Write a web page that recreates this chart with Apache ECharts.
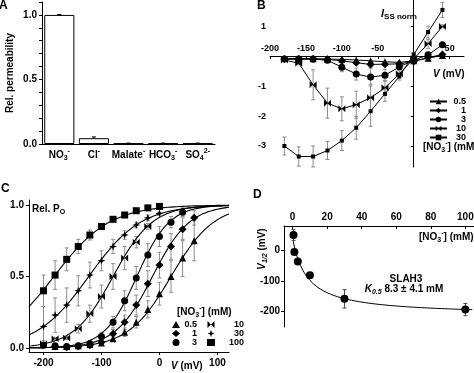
<!DOCTYPE html>
<html><head><meta charset="utf-8">
<script src="https://cdn.jsdelivr.net/npm/echarts@6/dist/echarts.min.js"></script>
<style>html,body{margin:0;padding:0;background:#fff}#c{width:474px;height:373px}</style>
</head><body><div id="c"></div>
<script>
// ---------- Panel A: relative permeability ----------
const aCategories = ['NO3', 'Cl', 'Malate', 'HCO3', 'SO4'];
const aValues = [1.0, 0.045, 0.005, 0.005, 0.005];
const aErrors = [0.003, 0.01, 0.002, 0.002, 0.002];
const aTickLabels = [0, 0.5, 1.0];

// ---------- Panel B: I/V curves ----------
const bVoltages = [-180, -160, -140, -120, -100, -80, -60, -40, -20, 0, 20, 40];
const bI05 = [-0.08, -0.08, -0.09, -0.10, -0.11, -0.13, -0.16, -0.19, -0.21, -0.16, -0.07, 0.02];
const bI1  = [-0.10, -0.10, -0.10, -0.11, -0.16, -0.22, -0.28, -0.27, -0.26, -0.18, -0.05, 0.05];
const bI3  = [-0.10, -0.10, -0.10, -0.14, -0.37, -0.60, -0.70, -0.64, -0.36, -0.14, 0.04, 0.38];
const bI10 = [-0.13, -0.24, -0.96, -1.57, -1.76, -1.62, -1.39, -1.06, -0.59, -0.09, 0.41, 0.99];
const bI30 = [-3.00, -3.35, -3.35, -3.15, -2.82, -2.39, -1.84, -1.26, -0.68, 0.05, 0.80, 1.54];
const bE1  = [0, 0, 0, 0, 0.03, 0.05, 0.07, 0.06, 0.05, 0.03, 0.03, 0.03];
const bE3  = [0, 0, 0, 0.03, 0.15, 0.20, 0.30, 0.20, 0.10, 0.05, 0.05, 0.05];
const bE10 = [0.05, 0.05, 0.50, 0.50, 0.40, 0.45, 0.45, 0.25, 0.10, 0.05, 0.15, 0.05];
const bE30 = [0.30, 0.32, 0.35, 0.30, 0.33, 0.38, 0.50, 0.25, 0.12, 0.05, 0.20, 0.25];
const bXLabels = [-200, -150, -100, -50, 50];
const bYLabels = [-3, -2, -1, 1];

// ---------- Panel C: relative open probability ----------
const cVoltages = [-200, -180, -160, -140, -120, -100, -80, -60, -40, -20, 0, 20, 40, 60];
const cP05  = [null, 0.01, 0.01, 0.015, 0.025, 0.035, 0.065, 0.11, 0.18, 0.27, 0.38, 0.50, 0.63, 0.75];
const cP1   = [null, 0.01, 0.005, 0.01, 0.02, 0.04, 0.10, 0.18, 0.30, 0.45, 0.58, 0.71, 0.83, 0.91];
const cP3   = [0.02, 0.015, 0.01, 0.015, 0.03, 0.08, 0.18, 0.33, 0.49, 0.65, 0.78, 0.88, 0.95, null];
const cP10  = [0.03, 0.065, 0.07, 0.135, 0.24, 0.36, 0.50, 0.63, 0.74, 0.85, null, null, null, null];
const cP30  = [0.15, 0.23, 0.30, 0.40, 0.51, 0.61, 0.71, 0.79, 0.86, 0.91, 0.94, null, null, null];
const cP100 = [0.40, 0.51, 0.62, 0.71, 0.79, 0.85, 0.90, 0.93, 0.96, 0.98, 0.99, null, null, null];
const cE05  = [null, 0.005, 0.005, 0.01, 0.01, 0.015, 0.02, 0.03, 0.04, 0.06, 0.08, 0.11, 0.13, 0.14];
const cE1   = [null, 0.005, 0.005, 0.01, 0.01, 0.02, 0.03, 0.05, 0.07, 0.09, 0.09, 0.09, 0.08, 0.05];
const cE3   = [0.01, 0.01, 0.01, 0.01, 0.02, 0.03, 0.04, 0.07, 0.08, 0.08, 0.07, 0.04, 0.03, null];
const cE10  = [0.02, 0.01, 0.01, 0.03, 0.06, 0.08, 0.09, 0.08, 0.04, 0.02, null, null, null, null];
const cE30  = [0.14, 0.12, 0.12, 0.105, 0.09, 0.07, 0.05, 0.03, 0.02, 0.02, 0.01, null, null, null];
const cE100 = [0.11, 0.10, 0.08, 0.05, 0.035, 0.02, 0.015, 0.01, 0.01, 0.01, 0.01, null, null, null];
// Boltzmann fit parameters (0.5, 1, 3, 10, 30, 100 mM)
const cFitHalf  = [20, -12, -39, -80, -122, -182];
const cFitSlope = [37, 32, 28, 34, 45, 48];
const cXLabels = [-200, -100, 0, 100];
const cYLabels = [0, 0.5, 1.0];

// ---------- Panel D: V1/2 vs nitrate ----------
const dConc = [0.5, 1, 3, 10, 30, 100];
const dVhalf = [51, -5, -36, -81, -158, -193];
const dErr = [18, 8, 4, 8, 30, 20];
const dFitV0 = 40, dFitVmin = -212, dFitK = 8.3;
const dXLabels = [0, 20, 40, 60, 80, 100];
const dYLabels = [-200, -100, 0];

const FONT = '"Liberation Sans", Arial, sans-serif';
const BLACK = '#000';
const ERRC = '#8c8c8c';

const bowtie = 'path://M0,0L5,5L0,10Z M10,0L5,5L10,10Z';
const star4 = 'path://M5,0L6.3,3.7L10,5L6.3,6.3L5,10L3.7,6.3L0,5L3.7,3.7Z';

function zip(xs, ys) { const out = []; xs.forEach((x, i) => { if (ys[i] != null) out.push([x, ys[i]]); }); return out; }
function zip3(xs, ys, es) { const out = []; xs.forEach((x, i) => { if (ys[i] != null && es[i]) out.push([x, ys[i], es[i]]); }); return out; }

function errRender(cap, color) {
  return function (params, api) {
    const x = api.value(0), y = api.value(1), e = api.value(2);
    if (!e) return null;
    const t = api.coord([x, y + e]), b = api.coord([x, y - e]);
    const st = { stroke: color, lineWidth: 1 };
    return { type: 'group', children: [
      { type: 'line', shape: { x1: t[0], y1: t[1], x2: b[0], y2: b[1] }, style: st },
      { type: 'line', shape: { x1: t[0] - cap, y1: t[1], x2: t[0] + cap, y2: t[1] }, style: st },
      { type: 'line', shape: { x1: b[0] - cap, y1: b[1], x2: b[0] + cap, y2: b[1] }, style: st }
    ] };
  };
}
function errSeries(idx, data, cap, color) {
  return { type: 'custom', xAxisIndex: idx, yAxisIndex: idx, data: data, encode: { x: 0, y: 1 },
    renderItem: errRender(cap, color || ERRC), z: 1, silent: true };
}

function boltzmann(vHalf, slope) {
  const pts = [];
  for (let v = -225; v <= 120; v += 2.5) pts.push([v, 1 / (1 + Math.exp(-(v - vHalf) / slope))]);
  return pts;
}
function dFitCurve() {
  const pts = [];
  let c = 0.3;
  while (c <= 105) {
    pts.push([c, dFitVmin + (dFitV0 - dFitVmin) * dFitK / (dFitK + c)]);
    c += c < 5 ? 0.25 : 1;
  }
  return pts;
}

const axisLine = { show: true, onZero: false, lineStyle: { color: BLACK, width: 1 } };
const lbl = (size) => ({ color: BLACK, fontFamily: FONT, fontWeight: 'bold', fontSize: size });
const tick = (vals, inside) => ({ show: true, inside: !!inside, length: 3, customValues: vals, lineStyle: { color: BLACK, width: 1 } });

const subRich = {
  a: { fontFamily: FONT, fontWeight: 'bold', fontSize: 10, lineHeight: 14, verticalAlign: 'middle', color: BLACK },
  i: { fontFamily: FONT, fontWeight: 'bold', fontStyle: 'italic', fontSize: 10, lineHeight: 14, verticalAlign: 'middle', color: BLACK },
  s: { fontFamily: FONT, fontWeight: 'bold', fontSize: 7, lineHeight: 7, verticalAlign: 'bottom', color: BLACK },
  si: { fontFamily: FONT, fontWeight: 'bold', fontStyle: 'italic', fontSize: 7, lineHeight: 7, verticalAlign: 'bottom', color: BLACK },
  p: { fontFamily: FONT, fontWeight: 'bold', fontSize: 7, lineHeight: 7, verticalAlign: 'top', color: BLACK }
};
const catLabel = { NO3: '{a|NO}{s|3}{p|-}', Cl: '{a|Cl}{p|-}', Malate: '{a|Malate}{p|-}', HCO3: '{a|HCO}{s|3}{p|-}', SO4: '{a|SO}{s|4}{p|2-}' };

const bNames = ['0.5', '1', '3', '10', '30'];
const bSeriesData = [bI05, bI1, bI3, bI10, bI30];
const bSymbols = ['triangle', 'diamond', 'circle', bowtie, 'rect'];
const bSizes = [7, 8, 7, 7, 4];

const cNames = ['0.5', '1', '3', '10', '30', '100'];
const cSeriesData = [cP05, cP1, cP3, cP10, cP30, cP100];
const cErrData = [cE05, cE1, cE3, cE10, cE30, cE100];
const cSymbols = ['triangle', 'diamond', 'circle', bowtie, star4, 'rect'];
const cSizes = [7, 8, 7, 7, 8, 7];

const series = [];
// A
series.push({ type: 'bar', xAxisIndex: 0, yAxisIndex: 0, data: aValues, barWidth: '87%',
  itemStyle: { color: '#fff', borderColor: BLACK, borderWidth: 1 }, z: 2 });
series.push(errSeries(0, aValues.map((v, i) => [i, v, aErrors[i]]), 2, BLACK));
// B
series.push(errSeries(1, [].concat(zip3(bVoltages, bI1, bE1), zip3(bVoltages, bI3, bE3), zip3(bVoltages, bI10, bE10), zip3(bVoltages, bI30, bE30)), 2));
bNames.forEach((n, k) => series.push({ type: 'line', name: 'B ' + n, xAxisIndex: 1, yAxisIndex: 1,
  data: zip(bVoltages, bSeriesData[k]), symbol: bSymbols[k], symbolSize: bSizes[k], showSymbol: true,
  lineStyle: { color: BLACK, width: 1 }, itemStyle: { color: BLACK }, z: 3 }));
// C
cNames.forEach((n, k) => {
  series.push(errSeries(2, zip3(cVoltages, cSeriesData[k], cErrData[k]), 2));
  series.push({ type: 'line', xAxisIndex: 2, yAxisIndex: 2, data: boltzmann(cFitHalf[k], cFitSlope[k]),
    showSymbol: false, symbol: 'none', lineStyle: { color: BLACK, width: 1.1 }, z: 2, silent: true });
  series.push({ type: 'scatter', name: 'C ' + n, xAxisIndex: 2, yAxisIndex: 2, data: zip(cVoltages, cSeriesData[k]),
    symbol: cSymbols[k], symbolSize: cSizes[k], itemStyle: { color: BLACK, opacity: 1 }, z: 4 });
});
// D
series.push({ type: 'line', xAxisIndex: 3, yAxisIndex: 3, data: dFitCurve(), showSymbol: false, symbol: 'none',
  lineStyle: { color: BLACK, width: 1 }, z: 2, silent: true });
series.push(errSeries(3, zip3(dConc, dVhalf, dErr), 2, '#444'));
series.push({ type: 'scatter', xAxisIndex: 3, yAxisIndex: 3, data: zip(dConc, dVhalf), symbol: 'circle', symbolSize: 8,
  itemStyle: { color: BLACK, opacity: 1 }, z: 4 });

const legendText = (w) => ({ fontFamily: FONT, fontWeight: 'bold', fontSize: 9, color: BLACK, lineHeight: 9,
  rich: { r: { width: w, align: 'right', fontFamily: FONT, fontWeight: 'bold', fontSize: 9, lineHeight: 9, color: BLACK } } });

const option = {
  animation: false,
  backgroundColor: '#fff',
  textStyle: { fontFamily: FONT },
  grid: [
    { left: 42, top: 2, width: 173, height: 142, outerBoundsMode: 'none' },
    { left: 270, top: 0, width: 194, height: 167, outerBoundsMode: 'none' },
    { left: 29, top: 200, width: 200, height: 152, outerBoundsMode: 'none' },
    { left: 284, top: 226, width: 190, height: 101, outerBoundsMode: 'none' }
  ],
  xAxis: [
    { gridIndex: 0, type: 'category', data: aCategories, axisLine: axisLine, axisTick: { show: false },
      axisLabel: { margin: 4, interval: 0, formatter: (v) => catLabel[v], rich: subRich } },
    { gridIndex: 1, type: 'value', min: -200, max: 70, offset: -111, axisLine: axisLine,
      axisTick: tick([-200, -150, -100, -50, 0, 50]), splitLine: { show: false },
      axisLabel: Object.assign(lbl(9), { inside: true, margin: 3, customValues: bXLabels }) },
    { gridIndex: 2, type: 'value', min: -225, max: 120, axisLine: axisLine, axisTick: tick(cXLabels), splitLine: { show: false },
      axisLabel: Object.assign(lbl(10), { margin: 6, customValues: cXLabels }) },
    { gridIndex: 3, type: 'value', position: 'top', min: -5, max: 105, axisLine: axisLine, axisTick: tick(dXLabels, true), splitLine: { show: false },
      axisLabel: Object.assign(lbl(10), { margin: 4, customValues: dXLabels }) }
  ],
  yAxis: [
    { gridIndex: 0, type: 'value', min: 0, max: 1.1, axisLine: axisLine, splitLine: { show: false },
      axisTick: tick([0, 0.1, 0.2, 0.3, 0.4, 0.5, 0.6, 0.7, 0.8, 0.9, 1.0, 1.1]),
      axisLabel: Object.assign(lbl(10), { margin: 5, customValues: aTickLabels, formatter: (v) => v.toFixed(1) }) },
    { gridIndex: 1, type: 'value', min: -3.7, max: 1.87, axisLine: { show: true, onZero: true, lineStyle: { color: BLACK } },
      axisTick: tick([-3, -2, -1, 0, 1]), splitLine: { show: false },
      axisLabel: Object.assign(lbl(9), { margin: 4, customValues: bYLabels }) },
    { gridIndex: 2, type: 'value', min: -0.028, max: 1.035, axisLine: axisLine, axisTick: tick(cYLabels), splitLine: { show: false },
      axisLabel: Object.assign(lbl(10), { margin: 5, customValues: cYLabels, formatter: (v) => v.toFixed(1) }) },
    { gridIndex: 3, type: 'value', min: -250, max: 80, axisLine: axisLine, axisTick: tick(dYLabels), splitLine: { show: false },
      axisLabel: Object.assign(lbl(10), { margin: 4, customValues: dYLabels }) }
  ],
  legend: [
    { data: bNames.map(n => 'B ' + n), orient: 'vertical', left: 424, top: 92, itemWidth: 17, itemHeight: 7, itemGap: 0,
      selectedMode: false, formatter: (n) => '{r|' + n.slice(2) + '}', textStyle: legendText(14) },
    { data: ['C 0.5', 'C 1', 'C 3'], orient: 'vertical', left: 167, top: 315, itemWidth: 8, itemHeight: 7, itemGap: 0,
      selectedMode: false, formatter: (n) => '{r|' + n.slice(2) + '}', textStyle: legendText(12) },
    { data: ['C 10', 'C 30', 'C 100'], orient: 'vertical', left: 202, top: 315, itemWidth: 8, itemHeight: 7, itemGap: 0,
      selectedMode: false, formatter: (n) => '{r|' + n.slice(2) + '}', textStyle: legendText(24) }
  ],
  graphic: [
    { type: 'text', x: -1, y: 0, style: { text: 'A', font: 'bold 12px ' + FONT, fill: BLACK } },
    { type: 'text', x: 257, y: 0, style: { text: 'B', font: 'bold 12px ' + FONT, fill: BLACK } },
    { type: 'text', x: 1, y: 183, style: { text: 'C', font: 'bold 12px ' + FONT, fill: BLACK } },
    { type: 'text', x: 253, y: 189, style: { text: 'D', font: 'bold 12px ' + FONT, fill: BLACK } },
    { type: 'text', x: 10, y: 73, rotation: Math.PI / 2,
      style: { text: 'Rel. permeability', font: 'bold 10px ' + FONT, fill: BLACK, align: 'center', verticalAlign: 'middle' } },
    { type: 'text', x: 381, y: 6, style: { text: '{I|I}{s|SS norm}', rich: {
      I: { fontFamily: FONT, fontWeight: 'bold', fontStyle: 'italic', fontSize: 11, lineHeight: 15, verticalAlign: 'middle', fill: BLACK },
      s: { fontFamily: FONT, fontWeight: 'bold', fontSize: 8, lineHeight: 8, verticalAlign: 'bottom', fill: BLACK } } } },
    { type: 'text', x: 433, y: 67, style: { text: '{i|V}{a| (mV)}', rich: subRich } },
    { type: 'text', x: 423, y: 140, style: { text: '{a|[NO}{s|3}{p|-}{a|] (mM)}', rich: subRich } },
    { type: 'text', x: 32, y: 202, style: { text: '{a|Rel. P}{s|O}', rich: subRich } },
    { type: 'text', x: 171, y: 359, style: { text: '{i|V}{a| (mV)}', rich: subRich } },
    { type: 'text', x: 177, y: 305, style: { text: '{a|[NO}{s|3}{p|-}{a|] (mM)}', rich: subRich } },
    { type: 'text', x: 419, y: 230, style: { text: '{a|[NO}{s|3}{p|-}{a|] (mM)}', rich: subRich } },
    { type: 'text', x: 262, y: 249, rotation: Math.PI / 2,
      style: { text: '{i|V}{si|1/2}{a| (mV)}', rich: subRich, align: 'center', verticalAlign: 'middle' } },
    { type: 'text', x: 406, y: 279, style: { text: 'SLAH3', font: 'bold 10px ' + FONT, fill: BLACK, align: 'center', verticalAlign: 'middle' } },
    { type: 'text', x: 404, y: 289, style: { text: '{i|K}{si|0.5}{a| 8.3 ± 4.1 mM}', rich: subRich, align: 'center', verticalAlign: 'middle' } }
  ],
  series: series
};

const chart = echarts.init(document.getElementById('c'), null, { renderer: 'canvas' });
chart.setOption(option);
</script>
</body></html>
